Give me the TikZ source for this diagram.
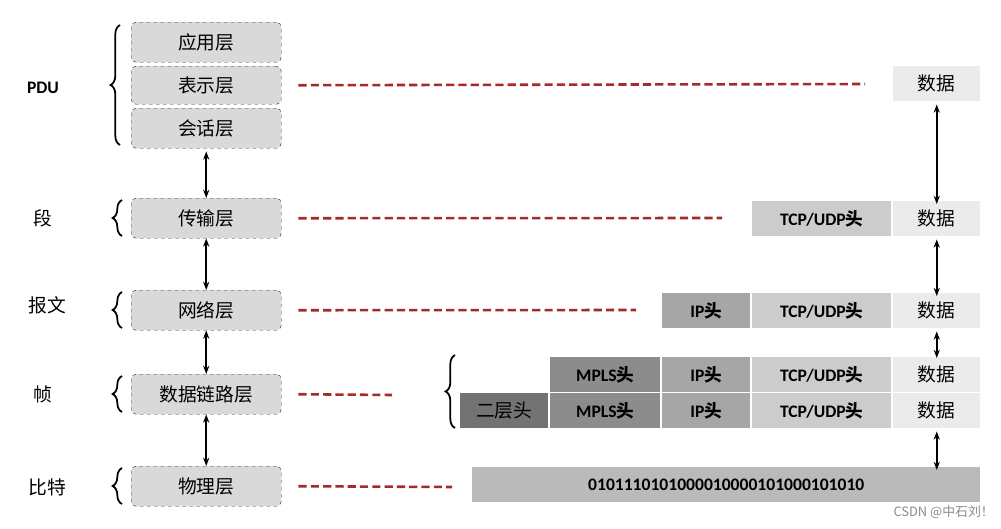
\documentclass[tikz,border=0pt]{standalone}
\usepackage{fontspec}
\setmainfont{Carlito}
\newfontfamily\cjk{Noto Sans CJK SC}
\usetikzlibrary{arrows.meta,decorations.pathreplacing}
\definecolor{dred}{HTML}{A52A2A}
\begin{document}
\begin{tikzpicture}[x=0.03cm,y=-0.03cm,
 layer/.style={draw=black!80,dashed,rounded corners=4pt,fill=black!15,minimum width=150*0.03cm,minimum height=38*0.03cm,font=\cjk\fontsize{16}{18}\selectfont,anchor=north west},
 cell/.style={minimum height=35*0.03cm,inner sep=0pt,anchor=north west,font=\fontsize{15}{17}\selectfont\bfseries},
 cw/.style={minimum width=#1*0.03cm},
 dcell/.style={cell,cw=87,fill=black!8,font=\cjk\fontsize{16}{18}\selectfont},
 lab/.style={font=\cjk\fontsize{16}{18}\selectfont},
 dline/.style={draw=dred,line width=2.2pt,dash pattern=on 7pt off 3.5pt},
 darr/.style={{Stealth[length=7pt]}-{Stealth[length=7pt]},line width=2pt},
 br/.style={decorate,decoration={brace,amplitude=8pt},line width=1.5pt}]
\useasboundingbox (0,0) rectangle (1001,529);
\fill[white] (0,0) rectangle (1001,529);
% layers
\node[layer,minimum height=40*0.03cm] (app) at (131,22) {应用层};
\node[layer] (pres) at (131,66) {表示层};
\node[layer,minimum height=40*0.03cm] (sess) at (131,108) {会话层};
\node[layer,minimum height=40*0.03cm] (tran) at (131,198) {传输层};
\node[layer,minimum height=40*0.03cm] (net) at (131,290) {网络层};
\node[layer,minimum height=40*0.03cm] (link) at (131,374) {数据链路层};
\node[layer,minimum height=40*0.03cm] (phy) at (131,466) {物理层};
\draw[darr] ([yshift=-3*0.03cm]sess.south) -- (tran.north);
\draw[darr] (tran.south) -- (net.north);
\draw[darr] (net.south) -- (link.north);
\draw[darr] (link.south) -- (phy.north);
% braces and labels
\draw[br] (120,145) -- (120,25);
\node[font=\bfseries\fontsize{15}{17}\selectfont] (pdu) at (43,88) {PDU};
\draw[br] (122,236) -- (122,200);
\node[lab] (seg) at (43,218) {段};
\draw[br] (122,328) -- (122,292);
\node[lab] (pkt) at (47,305) {报文};
\draw[br] (122,412) -- (122,376);
\node[lab] (frm) at (43,394) {帧};
\draw[br] (122,504) -- (122,468);
\node[lab] (bit) at (47,487) {比特};
% dashed lines
\coordinate (e1) at (865,84); \coordinate (e2) at (722,218); \coordinate (e3) at (636,310);
\coordinate (e4) at (392,395); \coordinate (e5) at (452,487);
\draw[dline] ([xshift=17*0.03cm]pres.east) -- (e1);
\draw[dline] ([xshift=17*0.03cm]tran.east) -- (e2);
\draw[dline] ([xshift=17*0.03cm]net.east) -- (e3);
\draw[dline] ([xshift=17*0.03cm]link.east) -- (e4);
\draw[dline] ([xshift=17*0.03cm]phy.east) -- (e5);
% right cells
\node[dcell] (d1) at (893,66) {数据};
\node[dcell] (d2) at (893,201) {数据};
\node[cell,cw=139,fill=black!20] (t2) at (752,201) {TCP/UDP{\cjk 头}};
\node[dcell] (d3) at (893,293) {数据};
\node[cell,cw=139,fill=black!20] (t3) at (752,293) {TCP/UDP{\cjk 头}};
\node[cell,cw=88,fill=black!35] (i3) at (662,293) {IP{\cjk 头}};
\node[dcell] (d4) at (893,357) {数据};
\node[cell,cw=139,fill=black!20] (t4) at (752,357) {TCP/UDP{\cjk 头}};
\node[cell,cw=88,fill=black!35] (i4) at (662,357) {IP{\cjk 头}};
\node[cell,cw=110,fill=black!45] (m4) at (550,357) {MPLS{\cjk 头}};
\node[dcell] (d5) at (893,393) {数据};
\node[cell,cw=139,fill=black!20] (t5) at (752,393) {TCP/UDP{\cjk 头}};
\node[cell,cw=88,fill=black!35] (i5) at (662,393) {IP{\cjk 头}};
\node[cell,cw=110,fill=black!45] (m5) at (550,393) {MPLS{\cjk 头}};
\node[cell,cw=88,fill=black!55,font=\cjk\fontsize{16}{18}\selectfont] (l5) at (460,393) {二层头};
\node[cell,cw=508,fill=black!27] (bits) at (472,467) {0101110101000010000101000101010};
\draw[br] (455,428) -- (455,355);
\draw[darr] ([yshift=-3*0.03cm]d1.south) -- ([yshift=-3*0.03cm]d2.north);
\draw[darr] ([yshift=-3*0.03cm]d2.south) -- ([yshift=-3*0.03cm]d3.north);
\draw[darr] ([yshift=-3*0.03cm]d3.south) -- ([yshift=-1*0.03cm]d4.north);
\draw[darr] ([yshift=-3*0.03cm]d5.south) -- ([yshift=-3*0.03cm]bits.north -| d5.south);
\node[anchor=east,text=black!45,font=\cjk\fontsize{11}{13}\selectfont] (wm) at (998,512) {CSDN @中石刘！};
\end{tikzpicture}
\end{document}
